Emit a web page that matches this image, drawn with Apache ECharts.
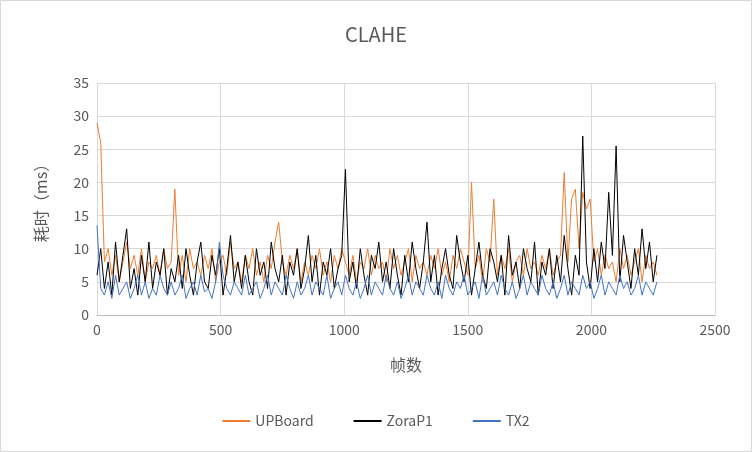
<!DOCTYPE html>
<html><head><meta charset="utf-8">
<script src="https://cdn.jsdelivr.net/npm/echarts@6/dist/echarts.min.js"></script>
<style>html,body{margin:0;padding:0;background:#fff}#c{width:750px;height:450px;border:1px solid #d9d9d9}</style>
</head><body><div id="c"></div>
<script>
const seriesNames = ['UPBoard','ZoraP1','TX2'];
const frameStep = 15;
const upboard = [29,26,8,10,6,9,5,8,11,7, 9,6,10,5,8,7,9,6,10,7, 8,19,6,9,5,10,7,8,6,9, 7,10,5,8,9,6,11,7,8,5,
 9,7,10,6,8,5,9,7,11,14, 8,6,9,7,10,5,8,6,9,7, 10,6,8,5,9,7,10,8,6,9, 5,8,7,10,6,9,7,8,5,10,
 7,9,6,8,10,5,9,7,8,6, 9,7,10,6,8,5,9,7,10,8, 6,20,7,9,5,10,8,17.5,6,9, 7,10,5,8,9,6,10,7,8,6,
 9,7,10,6,8,9,21.5,8,17.5,19, 10,18.5,16,17.5,8,10,6,9,7,8, 5,10,7,9,6,8,10,5,9,7, 8,6];
const zorap1 = [6,10,4,8,3,11,5,9,13,4, 7,3,9,5,11,4,8,6,10,3, 7,5,9,4,10,6,3,8,11,5, 4,9,6,10,3,7,12,5,8,4,
 9,5,3,10,6,8,4,11,7,5, 9,3,8,6,10,4,7,12,5,9, 3,8,6,10,4,7,9,22,5,8, 4,10,6,3,9,7,11,5,8,4,
 10,6,3,9,5,11,7,4,8,14, 5,9,3,7,10,6,4,12,8,5, 9,3,7,11,6,4,10,8,5,9, 3,12,6,8,4,10,7,5,11,3,
 8,6,10,4,9,5,12,7,3,9, 6,27,8,4,10,5,11,7,18.5,9, 25.5,5,12,8,4,10,6,13,7,11, 5,9];
const tx2 = [13.5,4,3,5,2.5,6,3,4,5,2.5, 4,6,3,5,2.5,4,3,6,4,3, 5,3,4,6,2.5,4,5,3,6,3.5, 4,2.5,5,11,6,4,3,5,4,3,
 6,3,4,5,2.5,4,6,3,5,4, 3,6,4,2.5,5,3,4,6,3,5, 4,3,6,2.5,4,5,3,6,4,3, 5,2.5,4,6,3,5,4,3,6,4,
 3,5,2.5,4,6,3,5,4,3,6, 4,3,5,2.5,6,4,3,5,4,6, 3,4,5,2.5,6,3,4,5,3,6, 4,3,5,2.5,4,6,3,5,4,3,
 6,4,3,5,2.5,4,6,3,5,4, 3,6,4,5,2.5,4,6,3,5,4, 3,6,4,5,3,4,6,3,5,4, 3,5];
const colors = ['#ED7D31','#000000','#4472C4'];
const pairs = a => a.map((v,i)=>[i*frameStep, v]);
const tc = '#595959', font = 'Microsoft YaHei, Noto Sans CJK SC, sans-serif';
const chart = echarts.init(document.getElementById('c'));
chart.setOption({
  animation:false,
  title:{text:'CLAHE',left:'center',top:18,textStyle:{fontSize:20,fontWeight:'normal',color:tc,fontFamily:font}},
  legend:{bottom:18,left:'center',itemWidth:28,itemHeight:2,itemGap:40,icon:'rect',
    textStyle:{fontSize:14,color:tc,fontFamily:font},data:seriesNames},
  grid:{left:96,right:36,top:82,bottom:136},
  xAxis:{type:'value',min:0,max:2500,interval:500,name:'帧数',nameLocation:'middle',nameGap:42,
    nameTextStyle:{fontSize:16,color:tc,fontFamily:font},
    axisLine:{lineStyle:{color:'#bfbfbf'}},axisTick:{show:false},
    axisLabel:{fontSize:14,color:tc,fontFamily:font,formatter:v=>String(v)},splitLine:{lineStyle:{color:'#d9d9d9'}}},
  yAxis:{type:'value',min:0,max:35,interval:5,name:'耗时（ms）',nameLocation:'middle',nameGap:48,
    nameTextStyle:{fontSize:16,color:tc,fontFamily:font},
    axisLine:{show:false},axisTick:{show:false},
    axisLabel:{fontSize:14,color:tc,fontFamily:font},splitLine:{lineStyle:{color:'#d9d9d9'}}},
  series:[upboard,zorap1,tx2].map((d,i)=>({name:seriesNames[i],type:'line',data:pairs(d),
    showSymbol:false,lineStyle:{width:1,color:colors[i]},itemStyle:{color:colors[i]}}))
});
</script></body></html>
